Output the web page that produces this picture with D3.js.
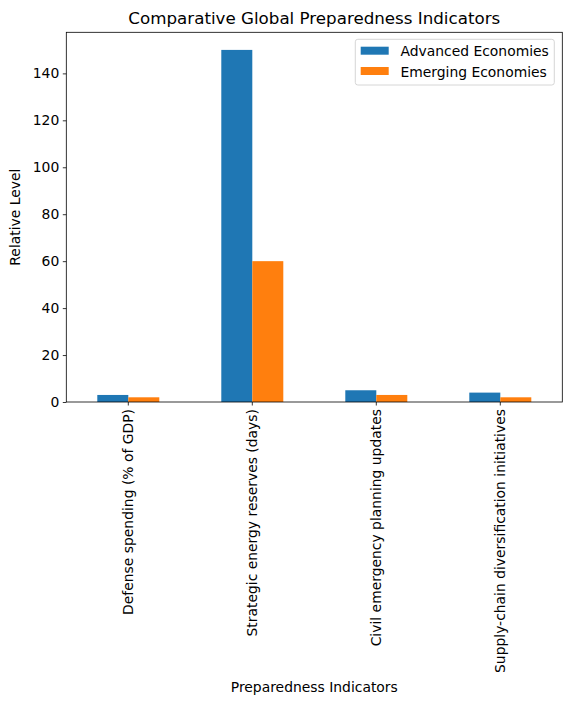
<!DOCTYPE html>
<html>
<head>
<meta charset="utf-8">
<script src="https://cdn.jsdelivr.net/npm/d3@7"></script>
<style>
  body { margin: 0; background: #fff; }
  text { font-family: "DejaVu Sans", sans-serif; fill: #000; }
</style>
</head>
<body>
<div id="chart"></div>
<script>
  // Chart data
  const categories = [
      "Defense spending (% of GDP)",
      "Strategic energy reserves (days)",
      "Civil emergency planning updates",
      "Supply-chain diversification initiatives"
  ];
  const seriesNames = ["Advanced Economies", "Emerging Economies"];
  const advanced = [3, 150, 5, 4];
  const emerging = [2, 60, 3, 2];
  const yTicks = [0, 20, 40, 60, 80, 100, 120, 140];
  const colors = ["#1f77b4", "#ff7f0e"];

  const width = 571, height = 705;
  const margin = { top: 32.3, right: 8.7, bottom: 303, left: 66.3 };
  const innerW = width - margin.left - margin.right;
  const innerH = height - margin.top - margin.bottom;

  const svg = d3.select("#chart")
      .append("svg")
      .attr("width", width)
      .attr("height", height);

  const g = svg.append("g")
      .attr("transform", `translate(${margin.left}, ${margin.top})`);

  const data = categories.map((c, i) => ({ cat: c, vals: [advanced[i], emerging[i]] }));

  // Scales
  const x = d3.scaleBand()
      .domain(categories)
      .range([0, innerW])
      .paddingInner(0.5)
      .paddingOuter(0.25);

  const x1 = d3.scaleBand()
      .domain(seriesNames)
      .range([0, x.bandwidth()]);

  const yMax = d3.max(advanced.concat(emerging)) * 1.05;
  const y = d3.scaleLinear()
      .domain([0, yMax])
      .range([innerH, 0]);

  // Bars
  const groups = g.selectAll(".cat")
      .data(data)
      .enter().append("g")
      .attr("class", "cat")
      .attr("transform", d => `translate(${x(d.cat)}, 0)`);

  groups.selectAll("rect")
      .data(d => d.vals.map((v, i) => ({ key: seriesNames[i], v: v, i: i })))
      .enter().append("rect")
      .attr("x", d => x1(d.key))
      .attr("y", d => y(d.v))
      .attr("width", x1.bandwidth())
      .attr("height", d => innerH - y(d.v))
      .attr("fill", d => colors[d.i]);

  // Axes
  const xAxis = g.append("g")
      .attr("transform", `translate(0, ${innerH})`)
      .call(d3.axisBottom(x).tickSize(3.5).tickPadding(3.5));
  xAxis.select(".domain").remove();
  xAxis.selectAll("text")
      .style("font-size", "13.9px")
      .attr("transform", "rotate(-90)")
      .attr("x", -7)
      .attr("y", 0)
      .attr("dy", "0.32em")
      .style("text-anchor", "end");
  xAxis.selectAll("line").attr("stroke", "#000").attr("stroke-width", 0.8);

  const yAxis = g.append("g")
      .call(d3.axisLeft(y).tickValues(yTicks).tickSize(3.5).tickPadding(3.5));
  yAxis.select(".domain").remove();
  yAxis.selectAll("text").style("font-size", "13.9px");
  yAxis.selectAll("line").attr("stroke", "#000").attr("stroke-width", 0.8);

  // Frame
  g.append("rect")
      .attr("width", innerW)
      .attr("height", innerH)
      .attr("fill", "none")
      .attr("stroke", "#000")
      .attr("stroke-width", 0.8);

  // Title and labels
  svg.append("text")
      .attr("x", margin.left + innerW / 2)
      .attr("y", 24)
      .style("text-anchor", "middle")
      .style("font-size", "16.7px")
      .text("Comparative Global Preparedness Indicators");

  svg.append("text")
      .attr("x", margin.left + innerW / 2)
      .attr("y", 692)
      .style("text-anchor", "middle")
      .style("font-size", "13.9px")
      .text("Preparedness Indicators");

  svg.append("text")
      .attr("transform", `translate(20, ${margin.top + innerH / 2}) rotate(-90)`)
      .style("text-anchor", "middle")
      .style("font-size", "13.9px")
      .text("Relative Level");

  // Legend
  const legend = g.append("g")
      .attr("transform", `translate(${innerW - 207}, 7)`);

  legend.append("rect")
      .attr("width", 199)
      .attr("height", 45.7)
      .attr("rx", 2.5)
      .attr("fill", "#fff")
      .attr("fill-opacity", 0.8)
      .attr("stroke", "#ccc")
      .attr("stroke-width", 0.8);

  const items = legend.selectAll(".item")
      .data(seriesNames)
      .enter().append("g")
      .attr("class", "item")
      .attr("transform", (d, i) => `translate(5.4, ${7.4 + i * 20.3})`);

  items.append("rect")
      .attr("width", 28)
      .attr("height", 8)
      .attr("fill", (d, i) => colors[i]);

  items.append("text")
      .attr("x", 39.7)
      .attr("y", 9.5)
      .style("font-size", "13.9px")
      .text(d => d);
</script>
</body>
</html>
